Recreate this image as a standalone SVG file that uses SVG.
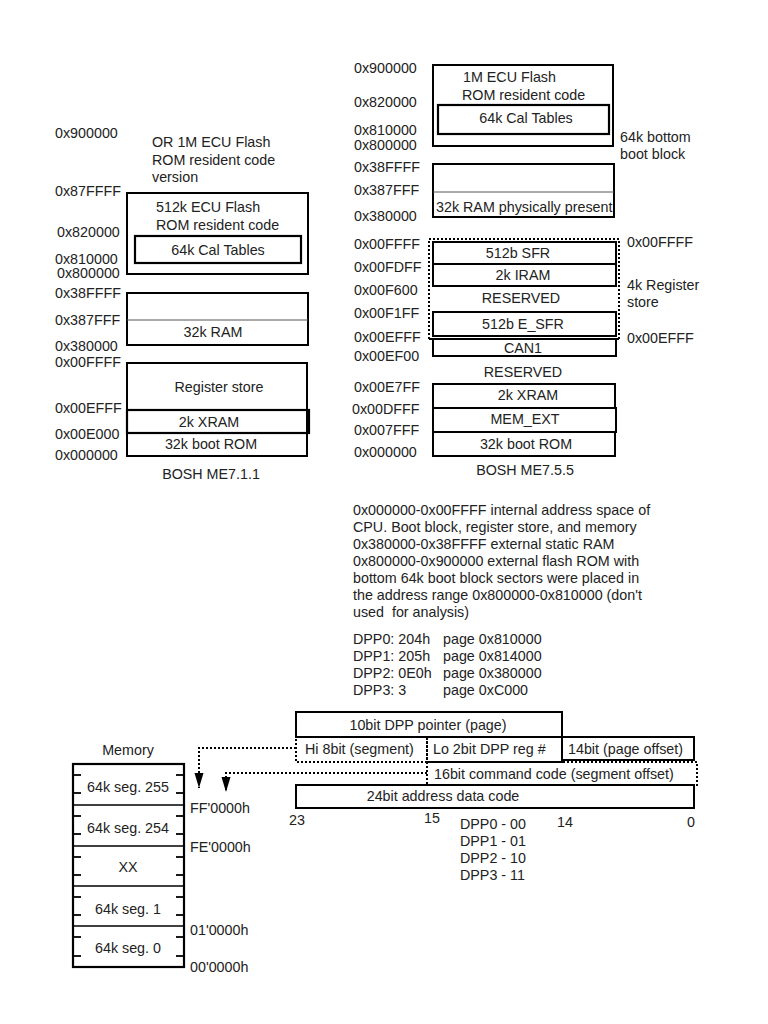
<svg xmlns="http://www.w3.org/2000/svg" width="768" height="1024" viewBox="0 0 768 1024">
<defs>
<style>
text{font-family:"Liberation Sans",Arial,sans-serif;font-size:14.3px;fill:#222}
.m{text-anchor:middle}
.b{fill:#fff;stroke:#000;stroke-width:2}
.bt{fill:none;stroke:#000;stroke-width:2.2}
.thin{stroke:#555;stroke-width:1;fill:none}
.dot{fill:none;stroke:#000;stroke-width:2;stroke-dasharray:2 2}
.tick{stroke:#000;stroke-width:1.8}
</style>
<marker id="ah" markerUnits="userSpaceOnUse" markerWidth="15" markerHeight="10" refX="15" refY="5" orient="auto" viewBox="0 0 15 10">
<path d="M0,0.5 L15,5 L0,9.5 Z" fill="#000"/>
</marker>
</defs>
<rect width="768" height="1024" fill="#fff"/>

<!-- Left map: BOSH ME7.1.1 -->
<g id="left-labels">
<text x="55" y="138">0x900000</text>
<text x="55" y="196">0x87FFFF</text>
<text x="57" y="237">0x820000</text>
<text x="55" y="264">0x810000</text>
<text x="57" y="278">0x800000</text>
<text x="55" y="298">0x38FFFF</text>
<text x="55" y="325">0x387FFF</text>
<text x="55" y="351">0x380000</text>
<text x="55" y="367">0x00FFFF</text>
<text x="55" y="413">0x00EFFF</text>
<text x="55" y="439">0x00E000</text>
<text x="55" y="460">0x000000</text>
</g>
<g id="left-or-note">
<text x="152" y="147">OR 1M ECU Flash</text>
<text x="152" y="165">ROM resident code</text>
<text x="152" y="182">version</text>
</g>
<g id="left-flash">
<rect class="b" x="127" y="193" width="181" height="81"/>
<text x="156" y="212">512k ECU Flash</text>
<text x="156" y="230">ROM resident code</text>
</g>
<g id="left-cal">
<rect class="bt" x="135" y="236" width="166" height="27"/>
<text class="m" x="218" y="255">64k Cal Tables</text>
</g>
<g id="left-ram">
<rect class="b" x="127" y="293" width="181" height="52"/>
<line class="thin" x1="127" y1="320" x2="308" y2="320"/>
<text class="m" x="213" y="337">32k RAM</text>
</g>
<g id="left-register">
<rect class="b" x="127" y="363" width="180" height="93"/>
<text class="m" x="219" y="392">Register store</text>
</g>
<g id="left-xram">
<rect class="bt" x="127" y="410" width="182" height="23"/>
<text class="m" x="209" y="427">2k XRAM</text>
</g>
<g id="left-bootrom">
<text class="m" x="211" y="449">32k boot ROM</text>
</g>
<g id="left-title"><text class="m" x="211" y="479">BOSH ME7.1.1</text></g>

<!-- Right map: BOSH ME7.5.5 -->
<g id="right-labels">
<text x="354" y="73">0x900000</text>
<text x="354" y="107">0x820000</text>
<text x="354" y="135">0x810000</text>
<text x="354" y="150">0x800000</text>
<text x="354" y="172">0x38FFFF</text>
<text x="354" y="195">0x387FFF</text>
<text x="354" y="221">0x380000</text>
<text x="354" y="249">0x00FFFF</text>
<text x="354" y="272">0x00FDFF</text>
<text x="354" y="295">0x00F600</text>
<text x="354" y="318">0x00F1FF</text>
<text x="354" y="342">0x00EFFF</text>
<text x="354" y="361">0x00EF00</text>
<text x="354" y="392">0x00E7FF</text>
<text x="352" y="414">0x00DFFF</text>
<text x="354" y="435">0x007FFF</text>
<text x="354" y="457">0x000000</text>
</g>
<g id="right-flash">
<rect class="b" x="433" y="65" width="180" height="81"/>
<text x="463" y="82">1M ECU Flash</text>
<text x="462" y="100">ROM resident code</text>
</g>
<g id="right-cal">
<rect class="bt" x="438" y="105" width="171" height="29"/>
<text class="m" x="526" y="123">64k Cal Tables</text>
</g>
<g id="right-bootblock-note">
<text x="620" y="142">64k bottom</text>
<text x="620" y="159">boot block</text>
</g>
<g id="right-ram">
<rect class="b" x="433" y="164" width="181" height="53"/>
<line class="thin" x1="433" y1="192" x2="614" y2="192"/>
<text x="436" y="212">32k RAM physically present</text>
</g>
<g id="right-register-store">
<rect class="dot" x="429" y="239" width="190" height="100"/>
<text x="627" y="247">0x00FFFF</text>
<text x="627" y="290">4k Register</text>
<text x="627" y="307">store</text>
<text x="627" y="343">0x00EFFF</text>
</g>
<g id="right-sfr">
<rect class="b" x="433" y="242" width="183" height="22"/>
<text class="m" x="518" y="258">512b SFR</text>
</g>
<g id="right-iram">
<rect class="b" x="433" y="264" width="183" height="22"/>
<text class="m" x="523" y="280">2k IRAM</text>
</g>
<g id="right-reserved1"><text class="m" x="521" y="303">RESERVED</text></g>
<g id="right-esfr">
<rect class="b" x="433" y="312" width="183" height="24"/>
<text class="m" x="523" y="329">512b E_SFR</text>
</g>
<g id="right-can1">
<rect class="b" x="433" y="339" width="183" height="17"/>
<line class="dot" x1="429" y1="339" x2="619" y2="339"/>
<text class="m" x="523" y="353">CAN1</text>
</g>
<g id="right-reserved2"><text class="m" x="523" y="377">RESERVED</text></g>
<g id="right-xram">
<rect class="b" x="433" y="384" width="182" height="24"/>
<text class="m" x="528" y="400">2k XRAM</text>
</g>
<g id="right-memext">
<rect class="b" x="433" y="408" width="183" height="24"/>
<text class="m" x="525" y="424">MEM_EXT</text>
</g>
<g id="right-bootrom">
<rect class="b" x="433" y="432" width="182" height="24"/>
<text class="m" x="526" y="449">32k boot ROM</text>
</g>
<g id="right-title"><text class="m" x="525" y="475">BOSH ME7.5.5</text></g>

<!-- Description text -->
<g id="description">
<text x="353" y="515">0x000000-0x00FFFF internal address space of</text>
<text x="353" y="532">CPU. Boot block, register store, and memory</text>
<text x="353" y="549">0x380000-0x38FFFF external static RAM</text>
<text x="353" y="566">0x800000-0x900000 external flash ROM with</text>
<text x="353" y="583">bottom 64k boot block sectors were placed in</text>
<text x="353" y="600">the address range 0x800000-0x810000 (don't</text>
<text x="353" y="617">used&#160; for analysis)</text>
</g>
<g id="dpp-values">
<text x="353" y="644">DPP0: 204h</text><text x="443" y="644">page 0x810000</text>
<text x="353" y="661">DPP1: 205h</text><text x="443" y="661">page 0x814000</text>
<text x="353" y="678">DPP2: 0E0h</text><text x="443" y="678">page 0x380000</text>
<text x="353" y="695">DPP3: 3</text><text x="443" y="695">page 0xC000</text>
</g>

<!-- Address format -->
<g id="dpp-pointer">
<rect class="b" x="296" y="712" width="266" height="25"/>
<text class="m" x="428" y="730">10bit DPP pointer (page)</text>
</g>
<g id="hi-8bit">
<rect class="dot" x="296" y="737" width="131" height="25"/>
<text x="305" y="754">Hi 8bit (segment)</text>
</g>
<g id="lo-2bit">
<path d="M427,762 H562 V737" fill="none" stroke="#000" stroke-width="2"/>
<line class="dot" x1="427" y1="737" x2="427" y2="762"/>
<text x="433" y="754">Lo 2bit DPP reg #</text>
</g>
<g id="page-offset">
<rect class="b" x="562" y="737" width="132" height="23"/>
<text x="568" y="754">14bit (page offset)</text>
</g>
<g id="segment-offset">
<path class="dot" d="M427,762 V785 H697 V762 H562"/>
<text x="434" y="779">16bit command code (segment offset)</text>
</g>
<g id="address-24bit">
<rect class="b" x="296" y="785" width="398" height="23"/>
<text class="m" x="443" y="801">24bit address data code</text>
</g>
<g id="bit-numbers">
<text x="289" y="825">23</text>
<text class="m" x="432" y="823">15</text>
<text class="m" x="565" y="827">14</text>
<text x="687" y="827">0</text>
</g>
<g id="dpp-codes">
<text x="460" y="829">DPP0 - 00</text>
<text x="460" y="846">DPP1 - 01</text>
<text x="460" y="863">DPP2 - 10</text>
<text x="460" y="880">DPP3 - 11</text>
</g>

<!-- Memory segments -->
<g id="memory">
<text class="m" x="128" y="755">Memory</text>
<rect fill="#fff" stroke="#000" stroke-width="2.2" x="73" y="764" width="111" height="203"/>
<g stroke="#000" stroke-width="1.5">
<line x1="73" y1="805" x2="184" y2="805"/>
<line x1="73" y1="846" x2="184" y2="846"/>
<line x1="73" y1="886" x2="184" y2="886"/>
<line x1="73" y1="926" x2="184" y2="926"/>
</g>
<g class="tick">
<line x1="73" y1="775" x2="81" y2="775"/><line x1="73" y1="793" x2="81" y2="793"/>
<line x1="176" y1="775" x2="184" y2="775"/><line x1="176" y1="793" x2="184" y2="793"/>
<line x1="73" y1="816" x2="81" y2="816"/><line x1="73" y1="834" x2="81" y2="834"/>
<line x1="176" y1="816" x2="184" y2="816"/><line x1="176" y1="834" x2="184" y2="834"/>
<line x1="73" y1="857" x2="81" y2="857"/><line x1="73" y1="875" x2="81" y2="875"/>
<line x1="176" y1="857" x2="184" y2="857"/><line x1="176" y1="875" x2="184" y2="875"/>
<line x1="73" y1="897" x2="81" y2="897"/><line x1="73" y1="915" x2="81" y2="915"/>
<line x1="176" y1="897" x2="184" y2="897"/><line x1="176" y1="915" x2="184" y2="915"/>
<line x1="73" y1="937" x2="81" y2="937"/><line x1="73" y1="956" x2="81" y2="956"/>
<line x1="176" y1="937" x2="184" y2="937"/><line x1="176" y1="956" x2="184" y2="956"/>
</g>
</g>
<g id="seg-255"><text class="m" x="128" y="792">64k seg. 255</text></g>
<g id="seg-254"><text class="m" x="128" y="833">64k seg. 254</text></g>
<g id="seg-xx"><text class="m" x="128" y="872">XX</text></g>
<g id="seg-1"><text class="m" x="128" y="914">64k seg. 1</text></g>
<g id="seg-0"><text class="m" x="128" y="953">64k seg. 0</text></g>
<g id="mem-addresses">
<text x="190" y="813">FF'0000h</text>
<text x="190" y="852">FE'0000h</text>
<text x="190" y="935">01'0000h</text>
<text x="190" y="972">00'0000h</text>
</g>

<!-- Connectors -->
<g id="connectors">
<path class="dot" d="M296,748 H199 V788" marker-end="url(#ah)"/>
<path class="dot" d="M427,773 H226 V792" marker-end="url(#ah)"/>
</g>
</svg>
